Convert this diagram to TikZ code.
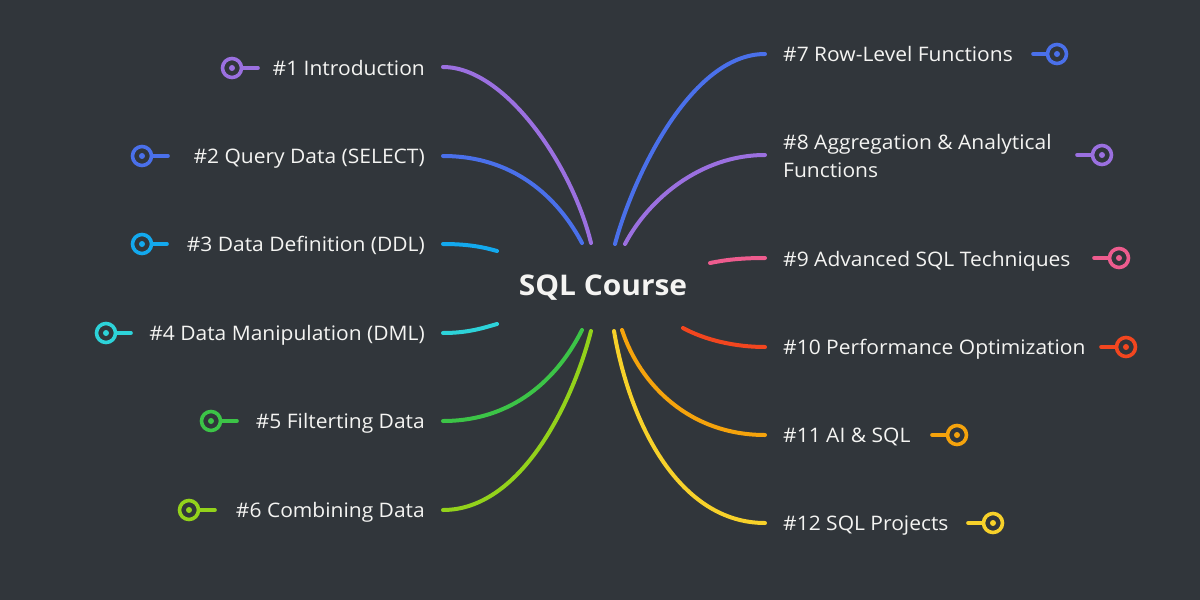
\documentclass[tikz,border=0pt]{standalone}
\usepackage{fontspec}
\setmainfont{Open Sans}[FakeStretch=1.05]
\definecolor{bg}{HTML}{31363B}
\definecolor{txt}{HTML}{F4F4F2}
\definecolor{cpurple}{HTML}{9B70E0}
\definecolor{cblue}{HTML}{4A70EA}
\definecolor{ccyan}{HTML}{13A9EE}
\definecolor{cturq}{HTML}{2DD3D9}
\definecolor{cgreen}{HTML}{3CC447}
\definecolor{clime}{HTML}{93D21B}
\definecolor{cpink}{HTML}{EE5C8E}
\definecolor{cred}{HTML}{F2461F}
\definecolor{corange}{HTML}{F5A30C}
\definecolor{cyellow}{HTML}{F7D12A}
\tikzset{
  lbl/.style={text=txt, font=\fontsize{20}{28}\selectfont, inner sep=0pt, text height=14pt, text depth=0pt},
  lleft/.style={lbl, anchor=east},
  lright/.style={lbl, anchor=west, align=left},
  conn/.style={line width=4pt, line cap=round},
  ring/.style={circle, draw=#1, line width=3.6pt, minimum size=19pt, inner sep=0pt},
  stub/.style={line width=3.6pt, line cap=round, draw=#1},
}
\newcommand{\markerdot}[2]{\fill[#2] (#1) circle (3pt);}
\begin{document}
\begin{tikzpicture}[x=1pt,y=-1pt]
\fill[bg] (0,0) rectangle (1200,600);
\useasboundingbox (0,0) rectangle (1200,600);

% title
\node[text=txt, font=\bfseries\fontsize{28.5}{34}\selectfont, inner sep=0pt] (title) at (603,288) {SQL Course};

% left labels
\node[lleft] (t1) at (425,68) {\#1 Introduction};
\node[lleft] (t2) at (425,156) {\#2 Query Data (SELECT)};
\node[lleft] (t3) at (425,244) {\#3 Data Definition (DDL)};
\node[lleft] (t4) at (425,333) {\#4 Data Manipulation (DML)};
\node[lleft] (t5) at (425,421) {\#5 Filterting Data};
\node[lleft] (t6) at (425,510) {\#6 Combining Data};

% right labels
\node[lright] (t7) at (783,54) {\#7 Row-Level Functions};
\node[lright, text height=14pt, text depth=14pt] (t8) at (783,177) {\#8 Aggregation \& Analytical\\Functions};
\node[lright] (t9) at (783,259) {\#9 Advanced SQL Techniques};
\node[lright] (t10) at (783,347) {\#10 Performance Optimization};
\node[lright] (t11) at (783,435) {\#11 AI \& SQL};
\node[lright] (t12) at (783,523) {\#12 SQL Projects};

% connector end points
\coordinate (s1) at (443,67);  \coordinate (e1) at (591,243);
\coordinate (s2) at (443,156); \coordinate (e2) at (582,243);
\coordinate (s3) at (443,244); \coordinate (e3) at (497,251);
\coordinate (s4) at (443,333); \coordinate (e4) at (497,324);
\coordinate (s5) at (443,421); \coordinate (e5) at (582,330);
\coordinate (s6) at (443,510); \coordinate (e6) at (591,331);
\coordinate (s7) at (765,54);  \coordinate (e7) at (615,244);
\coordinate (s8) at (765,155); \coordinate (e8) at (625,244);
\coordinate (s9) at (765,258); \coordinate (e9) at (710,263);
\coordinate (s10) at (765,347); \coordinate (e10) at (683,328);
\coordinate (s11) at (765,435); \coordinate (e11) at (622,330);
\coordinate (s12) at (765,523); \coordinate (e12) at (614,331);

\draw[conn, cpurple] (s1) .. controls (505,67) and (572,165) .. (e1);
\draw[conn, cblue] (s2) .. controls (520,156) and (562,205) .. (e2);
\draw[conn, ccyan] (s3) .. controls (468,244) and (483,247) .. (e3);
\draw[conn, cturq] (s4) .. controls (468,333) and (483,328) .. (e4);
\draw[conn, cgreen] (s5) .. controls (520,421) and (562,370) .. (e5);
\draw[conn, clime] (s6) .. controls (520,510) and (572,405) .. (e6);
\draw[conn, cblue] (s7) .. controls (690,54) and (632,180) .. (e7);
\draw[conn, cpurple] (s8) .. controls (700,155) and (648,200) .. (e8);
\draw[conn, cpink] (s9) .. controls (740,258) and (725,260) .. (e9);
\draw[conn, cred] (s10) .. controls (735,347) and (705,340) .. (e10);
\draw[conn, corange] (s11) .. controls (690,435) and (640,385) .. (e11);
\draw[conn, cyellow] (s12) .. controls (680,523) and (630,425) .. (e12);

% markers left
\node[ring=cpurple] (m1) at (232,68) {};
\node[ring=cblue] (m2) at (142,156) {};
\node[ring=ccyan] (m3) at (142,244) {};
\node[ring=cturq] (m4) at (106,333) {};
\node[ring=cgreen] (m5) at (211,421) {};
\node[ring=clime] (m6) at (189,510) {};
% markers right
\node[ring=cblue] (m7) at (1057,54) {};
\node[ring=cpurple] (m8) at (1102,155) {};
\node[ring=cpink] (m9) at (1119,258) {};
\node[ring=cred] (m10) at (1126,347) {};
\node[ring=corange] (m11) at (957,435) {};
\node[ring=cyellow] (m12) at (993,523) {};

\coordinate (k1) at (258,68);
\coordinate (k2) at (168,156);
\coordinate (k3) at (167,244);
\coordinate (k4) at (131,333);
\coordinate (k5) at (237,421);
\coordinate (k6) at (215,510);
\coordinate (k7) at (1033,54);
\coordinate (k8) at (1077,155);
\coordinate (k9) at (1094,258);
\coordinate (k10) at (1101,347);
\coordinate (k11) at (932,435);
\coordinate (k12) at (968,523);

\draw[stub=cpurple] (m1.east) -- (k1);
\draw[stub=cblue] (m2.east) -- (k2);
\draw[stub=ccyan] (m3.east) -- (k3);
\draw[stub=cturq] (m4.east) -- (k4);
\draw[stub=cgreen] (m5.east) -- (k5);
\draw[stub=clime] (m6.east) -- (k6);
\draw[stub=cblue] (m7.west) -- (k7);
\draw[stub=cpurple] (m8.west) -- (k8);
\draw[stub=cpink] (m9.west) -- (k9);
\draw[stub=cred] (m10.west) -- (k10);
\draw[stub=corange] (m11.west) -- (k11);
\draw[stub=cyellow] (m12.west) -- (k12);

\markerdot{m1.center}{cpurple}
\markerdot{m2.center}{cblue}
\markerdot{m3.center}{ccyan}
\markerdot{m4.center}{cturq}
\markerdot{m5.center}{cgreen}
\markerdot{m6.center}{clime}
\markerdot{m7.center}{cblue}
\markerdot{m8.center}{cpurple}
\markerdot{m9.center}{cpink}
\markerdot{m10.center}{cred}
\markerdot{m11.center}{corange}
\markerdot{m12.center}{cyellow}
\end{tikzpicture}
\end{document}
